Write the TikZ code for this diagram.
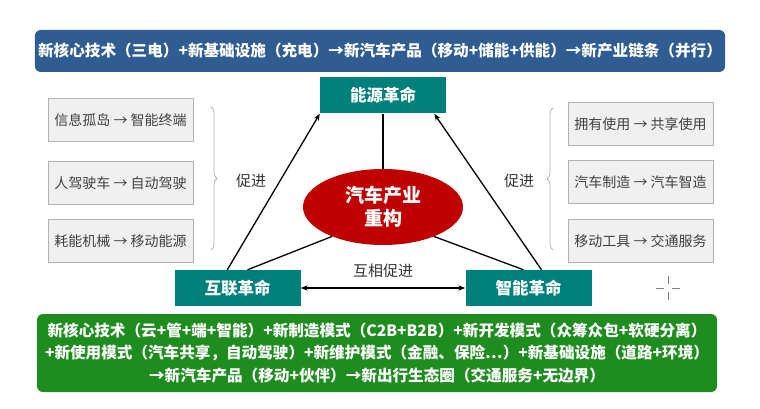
\documentclass[tikz,border=0pt]{standalone}
\usepackage{fontspec}
\setmainfont{Noto Sans CJK SC}
\usetikzlibrary{shapes.geometric,decorations.pathreplacing,arrows.meta}
\definecolor{topblue}{RGB}{47,93,145}
\definecolor{teal2}{RGB}{0,128,122}
\definecolor{green2}{RGB}{30,140,30}
\definecolor{red2}{RGB}{192,0,0}
\tikzset{
 rev/.style={fill=teal2,text=white,font=\bfseries\fontsize{16.5}{19}\selectfont,minimum width=126pt,minimum height=36pt,inner sep=0pt},
 gbox/.style={fill=gray!12,draw=gray!60,line width=1pt,text=black!75,font=\fontsize{14}{16}\selectfont,minimum width=145pt,minimum height=43pt,inner sep=0pt},
 con/.style={line width=1.3pt,black},
 arr/.style={con,-{Stealth[length=7pt]}},
 brc/.style={gray!60,line width=0.8pt,decorate,decoration={brace,amplitude=6pt}},
 lbl/.style={font=\fontsize{15}{17}\selectfont,text=black!80}
}
\begin{document}
\begin{tikzpicture}[x=1pt,y=-1pt]
\useasboundingbox (0,0) rectangle (760,409);
\node[fill=topblue,rounded corners=6pt,minimum width=686pt,minimum height=42pt,text=white,font=\bfseries\fontsize{15.6}{18}\selectfont] (top) at (380,51) {新核心技术（三电）+新基础设施（充电）→新汽车产品（移动+储能+供能）→新产业链条（并行）};
\node[fill=green2,rounded corners=6pt,minimum width=680pt,minimum height=78pt,text=white,align=center,font=\bfseries\fontsize{15.6}{22.5}\selectfont] (bot) at (377,353) {新核心技术（云+管+端+智能）+新制造模式（C2B+B2B）+新开发模式（众筹众包+软硬分离）\\+新使用模式（汽车共享，自动驾驶）+新维护模式（金融、保险…）+新基础设施（道路+环境）\\→新汽车产品（移动+伙伴）→新出行生态圈（交通服务+无边界）};
\node[rev] (ny) at (383,95.5) {能源革命};
\node[rev] (hl) at (237.5,288) {互联革命};
\node[rev] (zn) at (528.5,288) {智能革命};
\node[ellipse,fill=red2,text=white,minimum width=160pt,minimum height=76pt,align=center,inner sep=0pt,font=\bfseries\fontsize{19}{23}\selectfont] (car) at (383,207) {汽车产业\\重构};
\node[gbox] (l1) at (120.5,120) {信息孤岛 → 智能终端};
\node[gbox] (l2) at (120.5,183) {人驾驶车 → 自动驾驶};
\node[gbox] (l3) at (120.5,241) {耗能机械 → 移动能源};
\node[gbox] (r1) at (640.5,124) {拥有使用 → 共享使用};
\node[gbox] (r2) at (640.5,182) {汽车制造 → 汽车智造};
\node[gbox] (r3) at (640.5,241) {移动工具 → 交通服务};
\coordinate (bl1) at (211,107); \coordinate (bl2) at (211,250);
\draw[brc] (bl1) -- (bl2);
\node[lbl] (cj1) at (251,181) {促进};
\coordinate (br1) at (553,250); \coordinate (br2) at (553,108);
\draw[brc] (br1) -- (br2);
\node[lbl] (cj2) at (519,181) {促进};
\draw[arr] (hl.north west) ++(53,0) coordinate (h1) -- (ny.south west);
\draw[arr] ([xshift=13pt]zn.north) -- ([xshift=-12pt]ny.south east);
\draw[con] (ny.south) -- (car.north);
\draw[con] ([xshift=10pt]hl.north) -- (car.210);
\draw[con] ([xshift=-5pt]zn.north) -- (car.330);
\draw[con,{Stealth[length=7pt]}-{Stealth[length=7pt]}] (hl.east) -- (zn.west);
\node[lbl] (hx) at (383,271) {互相促进};
\coordinate (x0) at (668,288);
\draw[gray,line width=0.8pt] ([xshift=-12pt]x0) -- ([xshift=-4pt]x0) ([xshift=4pt]x0) -- ([xshift=12pt]x0)
 ([yshift=-12pt]x0) -- ([yshift=-4pt]x0) ([yshift=4pt]x0) -- ([yshift=12pt]x0);
\end{tikzpicture}
\end{document}
